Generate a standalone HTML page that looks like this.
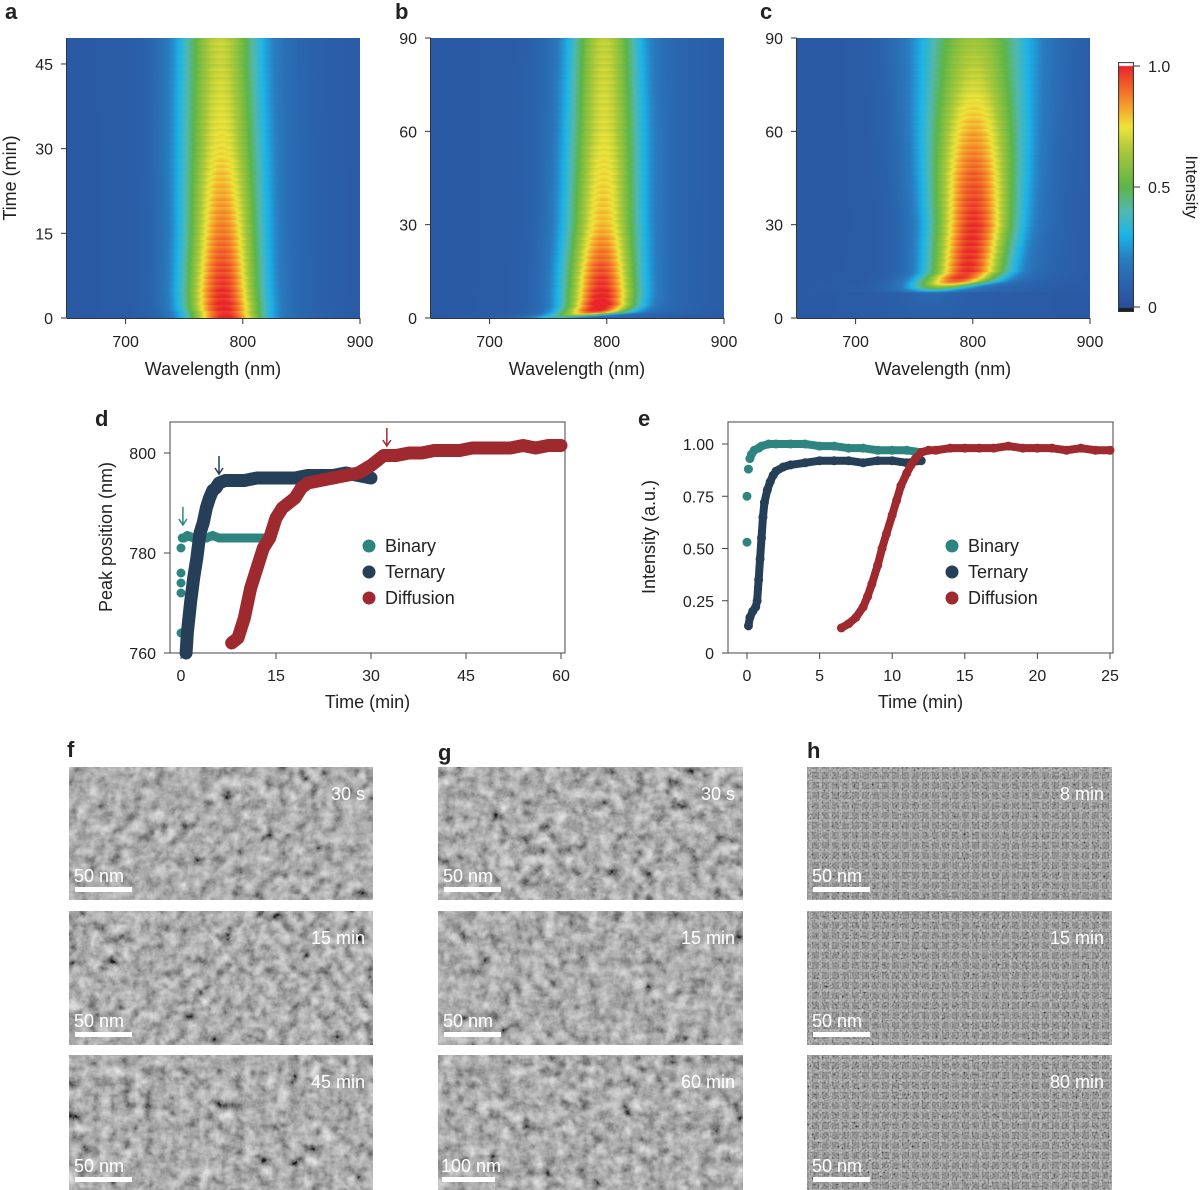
<!DOCTYPE html>
<html><head><meta charset="utf-8">
<style>
body{margin:0;background:#fff;width:1200px;height:1190px;overflow:hidden;font-family:"Liberation Sans",sans-serif;}
#root{position:relative;width:1200px;height:1190px;}
canvas{position:absolute;}
svg{position:absolute;left:0;top:0;}
text{font-family:"Liberation Sans",sans-serif;fill:#222;}
</style></head><body>
<div id="root">
<canvas id="hmA" width="293" height="280" style="left:67px;top:38px"></canvas>
<canvas id="hmB" width="293" height="280" style="left:431px;top:38px"></canvas>
<canvas id="hmC" width="293" height="280" style="left:797px;top:38px"></canvas>
<canvas id="cbar" width="16" height="250" style="left:1118px;top:62px"></canvas>
<svg id="main" width="1200" height="1190"></svg>
</div>
<script>
// ---------- heatmap data (keyframes) ----------
const aTimes=[0,2,5,15,30,45,50];
const aCenters=[785,783,782,782,781,780,780];
const aAmps=[0.86,0.88,0.86,0.76,0.63,0.57,0.57];
const aWidths=[22,23,23,23,24,24,24];
const bTimes=[0,1,2,4,8,15,30,60,90];
const bCenters=[748,772,788,794,795,795,796,797,797];
const bAmps=[0.12,0.45,0.85,0.92,0.88,0.82,0.68,0.6,0.56];
const bWidths=[14,17,20,21,22,22,22,22,21];
const cTimes=[0,8,9,10,12,15,30,45,60,75,90];
const cCenters=[760,762,765,770,785,795,800,800,800,800,800];
const cAmps=[0,0.04,0.2,0.45,0.82,0.86,0.86,0.8,0.7,0.58,0.5];
const cWidths=[15,15,16,18,22,23,25,27,29,31,33];
const cbStops=[0,0.2,0.3,0.4,0.5,0.65,0.75,0.85,1];
const cbColors=["#2a4e9a","#2a7cc0","#1cb4e8","#52b8b0","#5db548","#a9c83a","#efe43a","#f5922a","#e8262a"];

function hex(c){return [parseInt(c.slice(1,3),16),parseInt(c.slice(3,5),16),parseInt(c.slice(5,7),16)];}
function cmap(v){v=Math.max(0,Math.min(1,v));for(let i=1;i<cbStops.length;i++){if(v<=cbStops[i]){const f=(v-cbStops[i-1])/(cbStops[i]-cbStops[i-1]);const a=hex(cbColors[i-1]),b=hex(cbColors[i]);return a.map((x,k)=>x+(b[k]-x)*f);}}return hex(cbColors[cbColors.length-1]);}
function interp(ts,vs,t){if(t<=ts[0])return vs[0];for(let i=1;i<ts.length;i++){if(t<=ts[i]){const f=(t-ts[i-1])/(ts[i]-ts[i-1]);return vs[i-1]+(vs[i]-vs[i-1])*f;}}return vs[vs.length-1];}
function drawHeat(id,ts,cs,as,ws,tmax){
  const cv=document.getElementById(id),ctx=cv.getContext('2d'),W=cv.width,H=cv.height;
  const img=ctx.createImageData(W,H);
  for(let y=0;y<H;y++){const t=(H-y)/H*tmax;const c=interp(ts,cs,t),a=interp(ts,as,t),w=interp(ts,ws,t);
    const stripe=((y*7919)%13)/13*0.04-0.02;
    for(let x=0;x<W;x++){const wl=650+x/W*250;const d=(wl-c)/w;
      let v=0.05+a*(1+stripe*2)*Math.exp(-d*d/2)+0.08*Math.exp(-Math.pow((wl-c-15)/50,2)/2)*(a>0.1?1:0.3);
      const col=cmap(v);const k=(y*W+x)*4;img.data[k]=col[0];img.data[k+1]=col[1];img.data[k+2]=col[2];img.data[k+3]=255;}}
  ctx.putImageData(img,0,0);
}
drawHeat('hmA',aTimes,aCenters,aAmps,aWidths,49.6);
drawHeat('hmB',bTimes,bCenters,bAmps,bWidths,90);
drawHeat('hmC',cTimes,cCenters,cAmps,cWidths,90);
(function(){const cv=document.getElementById('cbar'),ctx=cv.getContext('2d');
 for(let y=0;y<250;y++){let col;if(y<4)col=[255,255,255];else if(y>245)col=[30,30,30];else col=cmap((245-y)/241);
 ctx.fillStyle=`rgb(${col.map(Math.round).join(',')})`;ctx.fillRect(0,y,16,1);}
 ctx.strokeStyle='#333';ctx.strokeRect(0.5,0.5,15,249);})();

// ---------- scatter data ----------
const dBinaryT=[0,0,0,0,0,0.2,0.5,1,2,3,4,5,6,7,8,9,10,11,12,13];
const dBinaryV=[764,772,774,776,781,783,783,783.5,783,783,783,783.5,783,783,783,783,783,783,783,783];
const dTernaryT=[0.8,1,1.5,2,2.5,3,3.5,4,4.5,5,5.5,6,7,8,10,12,14,16,18,20,22,24,26,28,30];
const dTernaryV=[760,764,770,775,779,784,786,789,791,792.5,793,794,794.5,794.5,794.5,795,795,795,795,795.5,795.5,795.5,796,795.5,795];
const dDiffT=[8,9,10,10.5,11,11.5,12,12.5,13,14,15,16,17,18,19,20,22,24,26,28,30,31,32,34,36,38,40,42,44,46,48,50,52,54,56,58,60];
const dDiffV=[762,763,767,770,773,775,777,779,781,783,787,789,790,791,793,794,794.5,795,795.5,796,797.5,798.5,799.5,799.5,800,800,800.5,800.5,800.5,801,801,801,801,801.5,801,801.5,801.5];
const eBinaryT=[0,0,0.1,0.2,0.3,0.5,0.8,1,1.5,2,3,4,5,6,7,8,9,10,11,12];
const eBinaryV=[0.53,0.75,0.88,0.93,0.95,0.97,0.98,0.99,1.0,1.0,1.0,1.0,0.99,0.99,0.98,0.98,0.97,0.97,0.97,0.96];
const eTernaryT=[0.1,0.2,0.4,0.6,0.7,0.8,0.9,1,1.1,1.2,1.4,1.6,1.8,2,2.5,3,4,5,6,7,8,9,10,11,12];
const eTernaryV=[0.13,0.17,0.2,0.22,0.25,0.35,0.45,0.55,0.65,0.72,0.78,0.82,0.85,0.87,0.89,0.9,0.91,0.92,0.92,0.92,0.91,0.92,0.92,0.91,0.92];
const eDiffT=[6.5,7,7.5,8,8.3,8.6,9,9.3,9.6,10,10.3,10.6,11,11.3,11.6,12,12.5,13,14,15,16,17,18,19,20,21,22,23,24,25];
const eDiffV=[0.12,0.14,0.17,0.22,0.27,0.33,0.42,0.5,0.57,0.66,0.73,0.8,0.86,0.9,0.93,0.96,0.97,0.97,0.98,0.98,0.98,0.98,0.99,0.98,0.98,0.98,0.97,0.98,0.97,0.97];
const dXTicks=[0,15,30,45,60];
const dYTicks=[760,780,800];
const eXTicks=[0,5,10,15,20,25];
const eYTicks=[0,0.25,0.5,0.75,1.0];
const eYLabels=["0","0.25","0.50","0.75","1.00"];
const hmTicksX=[700,800,900];

const NS='http://www.w3.org/2000/svg';const svg=document.getElementById('main');
function el(tag,attrs,parent,txt){const e=document.createElementNS(NS,tag);for(const k in attrs)e.setAttribute(k,attrs[k]);if(txt!==undefined)e.textContent=txt;(parent||svg).appendChild(e);return e;}
const TEAL='#2e8580',NAVY='#263f58',RED='#9e2a2f';

function hmAxes(x0,yTicks,tmax,name){
  const g=el('g',{});
  const sx=v=>x0+(v-650)/250*293, sy=v=>318-v/tmax*280;
  el('line',{x1:x0,y1:318.5,x2:x0+293,y2:318.5,stroke:'#333','stroke-width':1},g);
  el('line',{x1:x0-0.5,y1:38,x2:x0-0.5,y2:318,stroke:'#333','stroke-width':1},g);
  hmTicksX.forEach(v=>{el('line',{x1:sx(v),y1:318,x2:sx(v),y2:324,stroke:'#333'},g);el('text',{x:sx(v),y:347,'text-anchor':'middle','font-size':16},g,v);});
  yTicks.forEach(v=>{el('line',{x1:x0-6,y1:sy(v),x2:x0,y2:sy(v),stroke:'#333'},g);el('text',{x:x0-14,y:sy(v)+6,'text-anchor':'end','font-size':16},g,v);});
  el('text',{x:x0+146,y:375,'text-anchor':'middle','font-size':18},g,'Wavelength (nm)');
}
hmAxes(67,[0,15,30,45],49.6,'panel-a');
hmAxes(431,[0,30,60,90],90,'panel-b');
hmAxes(797,[0,30,60,90],90,'panel-c');
el('text',{x:16,y:178,'text-anchor':'middle','font-size':18,transform:'rotate(-90 16 178)'},svg,'Time (min)');
[[1,66,'1.0'],[0.5,187,'0.5'],[0,307,'0']].forEach(a=>{el('line',{x1:1134,y1:a[1],x2:1140,y2:a[1],stroke:'#333'});el('text',{x:1148,y:a[1]+6,'font-size':16},svg,a[2]);});
el('text',{x:1186,y:187,'text-anchor':'middle','font-size':17,transform:'rotate(90 1186 187)'},svg,'Intensity');

[['a',5,19],['b',395,19],['c',760,19],['d',95,426],['e',638,426],['f',67,757],['g',438,760],['h',807,758]].forEach(l=>{const t=el('text',{x:l[1],y:l[2],'font-size':22,'font-weight':'bold'},svg,l[0]);});

function scatterPanel(o){
  const g=el('g',{});
  el('rect',{x:o.bx,y:422,width:o.bw,height:231,fill:'none',stroke:'#444','stroke-width':1},g);
  o.xt.forEach(v=>{const x=o.sx(v);el('line',{x1:x,y1:653,x2:x,y2:659,stroke:'#444'},g);el('text',{x:x,y:681,'text-anchor':'middle','font-size':16},g,v);});
  o.yt.forEach((v,i)=>{const y=o.sy(v);el('line',{x1:o.bx-6,y1:y,x2:o.bx,y2:y,stroke:'#444'},g);el('text',{x:o.bx-14,y:y+6,'text-anchor':'end','font-size':16},g,o.yl?o.yl[i]:v);});
  el('text',{x:o.bx+o.bw/2,y:708,'text-anchor':'middle','font-size':18},g,'Time (min)');
  el('text',{x:o.ylx,y:537,'text-anchor':'middle','font-size':18,transform:`rotate(-90 ${o.ylx} 537)`},g,o.ylab);
  o.series.forEach(s=>{
    const sg=el('g',{},g);
    const start=s.lineFrom||0;
    const pts=s.t.slice(start).map((t,i)=>o.sx(t)+','+o.sy(s.v[i+start])).join(' ');
    el('polyline',{points:pts,fill:'none',stroke:s.c,'stroke-width':s.w||9,'stroke-linejoin':'round','stroke-linecap':'round'},sg);
    s.t.forEach((t,i)=>{const c=el('circle',{cx:o.sx(t),cy:o.sy(s.v[i]),r:4.5,fill:s.c},sg);});
  });
  o.series.forEach((s,i)=>{const y=546+i*26;const lg=el('g',{},g);
    el('circle',{cx:o.lx,cy:y,r:6.5,fill:s.c},lg);el('text',{x:o.lx+16,y:y+6,'font-size':18},lg,s.label);});
  return g;
}
const dsx=v=>181+v/60*380, dsy=v=>653-(v-760)/40*200;
const dG=scatterPanel({name:'panel-d-chart',bx:170,bw:395,sx:dsx,sy:dsy,xt:dXTicks,yt:dYTicks,ylx:112,ylab:'Peak position (nm)',lx:369,
 series:[{label:'Binary',c:TEAL,t:dBinaryT,v:dBinaryV,lineFrom:5},{label:'Ternary',c:NAVY,t:dTernaryT,v:dTernaryV,w:13},{label:'Diffusion',c:RED,t:dDiffT,v:dDiffV,w:13}]});
[[0.3,507,TEAL],[6,456,NAVY],[32.5,428,RED]].forEach(a=>{const x=dsx(a[0]);const ag=el('g',{},dG);
 el('line',{x1:x,y1:a[1],x2:x,y2:a[1]+17,stroke:a[2],'stroke-width':1.5},ag);el('polyline',{points:`${x-4},${a[1]+12} ${x},${a[1]+18} ${x+4},${a[1]+12}`,fill:'none',stroke:a[2],'stroke-width':1.5},ag);});
const esx=v=>747+v/25*363, esy=v=>653-v/1*209;
scatterPanel({name:'panel-e-chart',bx:728,bw:385,sx:esx,sy:esy,xt:eXTicks,yt:eYTicks,yl:eYLabels,ylx:655,ylab:'Intensity (a.u.)',lx:952,
 series:[{label:'Binary',c:TEAL,t:eBinaryT,v:eBinaryV,lineFrom:3,w:8},{label:'Ternary',c:NAVY,t:eTernaryT,v:eTernaryV,w:8},{label:'Diffusion',c:RED,t:eDiffT,v:eDiffV,w:8}]});

// TEM images
const defs=el('defs',{});
const cols=[[69,304],[438,305],[807,305]];
const rows=[[767,133],[911,134],[1055,135]];
const labels=[['30 s','15 min','45 min'],['30 s','15 min','60 min'],['8 min','15 min','80 min']];
const bars=[['50 nm','50 nm','50 nm'],['50 nm','50 nm','100 nm'],['50 nm','50 nm','50 nm']];
let seed=1;
cols.forEach((c,ci)=>rows.forEach((r,ri)=>{
  const id='f'+ci+ri;
  const f=el('filter',{id:id,x:0,y:0,width:'100%',height:'100%'},defs);
  el('feTurbulence',{type:'fractalNoise',baseFrequency:ci==2?'0.5':'0.09',numOctaves:4,seed:seed++},f);
  el('feColorMatrix',{type:'matrix',values:'0.33 0.33 0.33 0 0  0.33 0.33 0.33 0 0  0.33 0.33 0.33 0 0  0 0 0 0 1'},f);
  const ct=el('feComponentTransfer',{},f);
  ['feFuncR','feFuncG','feFuncB'].forEach(fn=>el(fn,{type:'linear',slope:ci==2?2.2:1.9,intercept:ci==2?-0.62:-0.48},ct));
  const g=el('g',{});
  el('rect',{x:c[0],y:r[0],width:c[1],height:r[1],fill:'#8a8a8a'},g);
  if(ci==2){el('rect',{x:c[0],y:r[0],width:c[1],height:r[1],fill:'url(#grid)',opacity:0.5},g);}
  el('rect',{x:c[0],y:r[0],width:c[1],height:r[1],filter:`url(#${id})`,opacity:ci==2?0.5:0.8},g);
  el('text',{x:c[0]+c[1]-8,y:r[0]+33,'text-anchor':'end','font-size':18,style:'fill:#fff'},g,labels[ci][ri]);
  const bw=bars[ci][ri]=='100 nm'?53:57, bx=ci==1&&ri==2?c[0]+4:c[0]+6;
  el('text',{x:bx-1,y:r[0]+r[1]-18,'font-size':18,style:'fill:#fff'},g,bars[ci][ri]);
  el('rect',{x:bx,y:r[0]+r[1]-13,width:bw,height:5,fill:'#fff'},g);
}));
const pat=el('pattern',{id:'grid',width:10,height:10,patternUnits:'userSpaceOnUse'},defs);
el('rect',{x:0,y:0,width:10,height:10,fill:'#b0b0b0'},pat);
el('rect',{x:2,y:2,width:7,height:7,fill:'#505050'},pat);
</script>
</body></html>
